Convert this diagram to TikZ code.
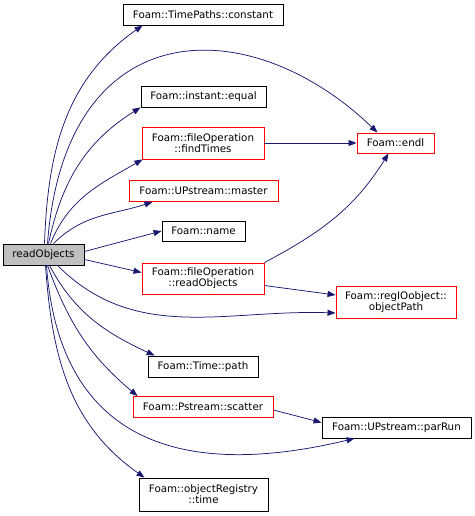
\documentclass[tikz,border=0pt]{standalone}
\usepackage{fontspec}
\setmainfont{DejaVu Sans}
\usetikzlibrary{arrows.meta, positioning}
\definecolor{edgeblue}{RGB}{25, 25, 112}
\definecolor{boxred}{RGB}{255, 0, 0}
\definecolor{boxgray}{RGB}{191, 191, 191}

\tikzset{
    fnbox/.style={draw=black, fill=white, line width=0.9pt, inner sep=0pt, align=center,
        font=\fontsize{10.3}{11}\selectfont},
    fnred/.style={fnbox, draw=boxred},
    call/.style={-{Triangle[length=8pt, width=6pt]}, draw=edgeblue, line width=0.75pt},
}

\begin{document}
\begin{tikzpicture}[x=1pt, y=1pt]
    \useasboundingbox (0,0) rectangle (474,-516);

    % Caller
    \node[fnbox, fill=boxgray, minimum width=81pt, minimum height=21pt] (ro) at (43.5,-254.5) {readObjects};

    % Direct callees
    \node[fnbox, minimum width=160pt, minimum height=21pt] (constant) at (203,-14.5) {Foam::TimePaths::constant};
    \node[fnbox, minimum width=125pt, minimum height=21pt] (equal) at (203.5,-96.5) {Foam::instant::equal};
    \node[fnred, minimum width=122pt, minimum height=32pt] (findtimes) at (203,-143) {Foam::fileOperation\\::findTimes};
    \node[fnred, minimum width=149pt, minimum height=21pt] (master) at (203.5,-191) {Foam::UPstream::master};
    \node[fnbox, minimum width=83pt, minimum height=20pt] (name) at (203.5,-231) {Foam::name};
    \node[fnred, minimum width=122pt, minimum height=31pt] (fileread) at (203,-278.5) {Foam::fileOperation\\::readObjects};
    \node[fnbox, minimum width=110pt, minimum height=21pt] (timepath) at (203,-366.5) {Foam::Time::path};
    \node[fnred, minimum width=140pt, minimum height=21pt] (scatter) at (203,-407) {Foam::Pstream::scatter};
    \node[fnbox, minimum width=129pt, minimum height=33pt] (regtime) at (203.5,-494.5) {Foam::objectRegistry\\::time};

    % Second level
    \node[fnred, minimum width=77pt, minimum height=20pt] (endl) at (395.5,-143) {Foam::endl};
    \node[fnred, minimum width=120pt, minimum height=32pt] (objpath) at (396,-302) {Foam::regIOobject::\\objectPath};
    \node[fnbox, minimum width=149pt, minimum height=21pt] (parrun) at (396.5,-427.5) {Foam::UPstream::parRun};

    % Calls from readObjects
    \draw[call] ([xshift=1pt]ro.north) to[out=88, in=-145] ([xshift=20pt]constant.south west);
    \draw[call] ([xshift=4pt]ro.north) .. controls (65,-10) and (250,-10) .. ([xshift=-18pt]endl.north);
    \draw[call] ([xshift=5pt]ro.north) to[out=78, in=-148] (equal.south west);
    \draw[call] ([xshift=7pt]ro.north) to[out=68, in=-150] ([xshift=1pt]findtimes.south west);
    \draw[call] ([xshift=10pt]ro.north) to[out=45, in=-162] ([xshift=24pt]master.south west);
    \draw[call] ([yshift=3pt]ro.east) -- (name.west);
    \draw[call] ([yshift=-5pt]ro.east) -- ([yshift=6pt]fileread.west);
    \draw[call] ([xshift=14pt]ro.south) to[out=-45, in=178] ([yshift=-11pt]objpath.west);
    \draw[call] ([xshift=6pt]ro.south) to[out=-62, in=155] ([xshift=7pt]timepath.north west);
    \draw[call] ([xshift=4pt]ro.south) to[out=-70, in=140] ([xshift=5pt]scatter.north west);
    \draw[call] ([xshift=3pt]ro.south) .. controls (58,-425) and (160,-485) .. ([xshift=33pt]parrun.south west);
    \draw[call] ([xshift=2pt]ro.south) to[out=-86, in=145] ([xshift=6pt]regtime.north west);

    % Calls further down
    \draw[call] (findtimes.east) -- (endl.west);
    \draw[call] (fileread.north east) to[out=28, in=-122] ([xshift=-7pt]endl.south);
    \draw[call] ([yshift=-7pt]fileread.east) -- ([yshift=7pt]objpath.west);
    \draw[call] ([yshift=-3pt]scatter.east) -- ([yshift=5pt]parrun.west);
\end{tikzpicture}
\end{document}
